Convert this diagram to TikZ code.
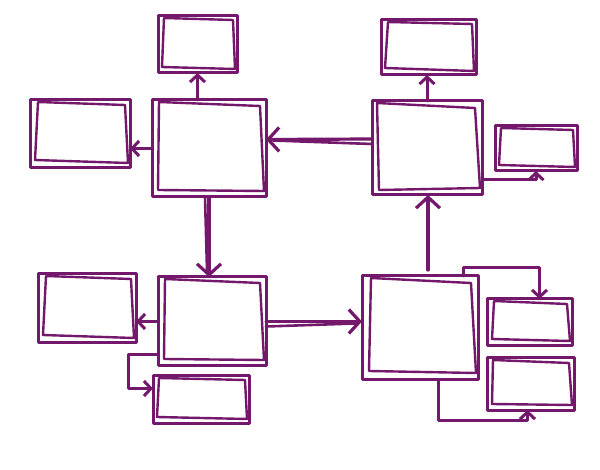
\documentclass[tikz,border=0pt]{standalone}
\usepackage{tikz}
\usetikzlibrary{arrows.meta}
\definecolor{ink}{RGB}{115,24,106}

\begin{document}
\begin{tikzpicture}[x=1pt, y=-1pt,
            line join = round,
            line cap  = round,
            every node/.style = {draw      = ink,
                                line width = 3pt,
                                inner sep = 0pt,
                                outer sep = 0pt},
            card/.style       = {minimum width  = #1},
            arr/.style        = {draw = ink,
                                line width = 3pt,
                                -{Straight Barb[length=7pt, width=15pt, line width=3pt]}},
            bigarr/.style     = {draw = ink,
                                line width = 3.2pt,
                                -{Straight Barb[length=11pt, width=24pt, line width=3.2pt]}}
            ]
            \useasboundingbox (0,0) rectangle (600,470);

            \node [card=79pt,  minimum height=57pt]  (topA)  at (197.5,44.5) {};
            \node [card=100pt, minimum height=68pt]  (leftA) at (80,134)     {};
            \node [card=114pt, minimum height=97pt]  (mainA) at (209,148.5)  {};
            \node [card=95pt,  minimum height=55pt]  (topB)  at (428.5,47.5) {};
            \node [card=110pt, minimum height=94pt]  (mainB) at (427,148)    {};
            \node [card=82pt,  minimum height=45pt]  (rightB) at (536,148.5) {};
            \node [card=98pt,  minimum height=69pt]  (leftC) at (87,308.5)   {};
            \node [card=108pt, minimum height=89pt]  (mainC) at (212,321.5)  {};
            \node [card=96pt,  minimum height=47pt]  (lowC)  at (201,399.5)  {};
            \node [card=116pt, minimum height=104pt] (mainD) at (420,328)    {};
            \node [card=85pt,  minimum height=47pt]  (upD)   at (529.5,322.5) {};
            \node [card=87pt,  minimum height=52pt]  (lowD)  at (530.5,384)  {};

            \foreach \n/\a/\b in {topA/6/4, leftA/8/5, mainA/7/6, topB/7/4,
                                  mainB/5/7, rightB/6/4, leftC/8/5, mainC/7/6,
                                  lowC/6/4, mainD/9/7, upD/7/5, lowD/6/5}
                \draw [ink, line width=2.4pt]
                    ([shift={(\a pt,-2pt)}]\n.north west)
                    -- ([shift={(-\b pt,-\b pt)}]\n.north east)
                    -- ([shift={(-2pt,\b pt)}]\n.south east)
                    -- ([shift={(\b pt,\a pt)}]\n.south west)
                    -- cycle;

            \draw [arr]    (mainA.north -| topA.south) -- (topA.south);
            \draw [arr]    (mainA.west)  -- (mainA.west -| leftA.east);
            \draw [arr]    (mainB.north) -- (mainB.north |- topB.south);
            \draw [arr]    ([yshift=-32pt]mainB.east) -| (rightB.south);
            \draw [bigarr] ([yshift=9pt]mainB.west) -- ([yshift=9pt]mainA.east);
            \draw [ink, line width=2.6pt]
                           ([yshift=4pt]mainB.west) -- ([shift={(7pt,8pt)}]mainA.east);
            \draw [bigarr] (mainA.south) -- (mainA.south |- mainC.north);
            \draw [ink, line width=2.6pt]
                           ([xshift=-4pt]mainA.south) -- ([shift={(-2pt,7pt)}]mainA.south |- mainC.north);
            \draw [arr]    (mainC.west)  -- (mainC.west -| leftC.east);
            \draw [arr]    ([yshift=-33pt]mainC.west) -- ++(-30pt,0) |- ([yshift=11pt]lowC.west);
            \draw [bigarr] (mainC.east)  -- (mainC.east -| mainD.west);
            \draw [ink, line width=2.6pt]
                           ([yshift=-5pt]mainC.east) -- ([shift={(-7pt,-2pt)}]mainC.east -| mainD.west);
            \draw [bigarr] ([shift={(8pt,6pt)}]mainD.north) -- ([xshift=8pt]mainD.north |- mainB.south);
            \draw [arr]    ([xshift=43pt]mainD.north) -- ++(0,8pt) -| ([xshift=10pt]upD.north);
            \draw [arr]    ([xshift=18pt]mainD.south) -- ++(0,-40pt) -| ([xshift=-3pt]lowD.south);
\end{tikzpicture}
\end{document}
